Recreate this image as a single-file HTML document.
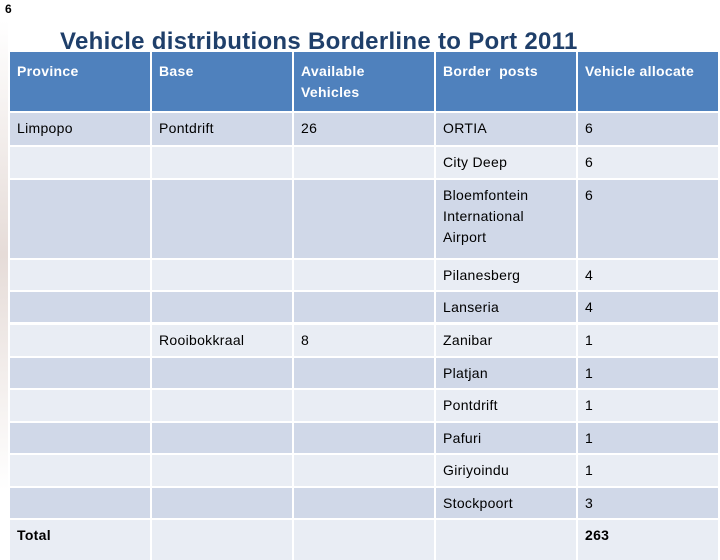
<!DOCTYPE html>
<html><head><meta charset="utf-8"><style>
body{margin:0;width:720px;height:540px;overflow:hidden;background:#fff;position:relative;font-family:"Liberation Sans",sans-serif}
.c{position:absolute;box-sizing:border-box;padding:5px 7px;font-size:14px;color:#000;line-height:21px;letter-spacing:0.3px}
.h{background:#4f81bd;color:#fff;font-weight:bold;padding-top:9px}
.d{background:#d0d8e8}.l{background:#e9edf4}
</style></head><body>
<div style="position:absolute;left:5px;top:2px;font-size:12px;font-weight:bold">6</div>
<div style="position:absolute;left:0;top:20px;width:8px;height:470px;background:linear-gradient(#fff,#e6dcd8,#fff)"></div>
<div style="position:absolute;left:60px;top:28px;font-size:24px;font-weight:bold;color:#1f3f6a;white-space:nowrap;letter-spacing:0.3px">Vehicle distributions Borderline to Port 2011</div>
<div id="t"></div>
<script>
const cols=[9,151,293,435,577,719];
const rows=[[52,111],[113,145],[147,178],[180,258],[260,290],[292,322],[325,356],[358,388],[390,421],[423,453],[455,486],[488,518],[520,560]];
const data=[
["Province","Base","Available\nVehicles","Border  posts","Vehicle allocate"],
["Limpopo","Pontdrift","26","ORTIA","6"],
["","","","City Deep","6"],
["","","","Bloemfontein\nInternational\nAirport","6"],
["","","","Pilanesberg","4"],
["","","","Lanseria","4"],
["","Rooibokkraal","8","Zanibar","1"],
["","","","Platjan","1"],
["","","","Pontdrift","1"],
["","","","Pafuri","1"],
["","","","Giriyoindu","1"],
["","","","Stockpoort","3"],
["Total","","","","263"]];
const t=document.getElementById('t');
data.forEach((r,i)=>r.forEach((v,j)=>{
const d=document.createElement('div');
d.className='c '+(i==0?'h':(i%2?'d':'l'));
d.style.left=(cols[j]+1)+'px';d.style.width=(cols[j+1]-cols[j]-2)+'px';
d.style.top=rows[i][0]+'px';d.style.height=(rows[i][1]-rows[i][0])+'px';
d.style.whiteSpace='pre';
if(i==12)d.style.fontWeight='bold';
d.textContent=v;


t.appendChild(d);}));
</script>
</body></html>
